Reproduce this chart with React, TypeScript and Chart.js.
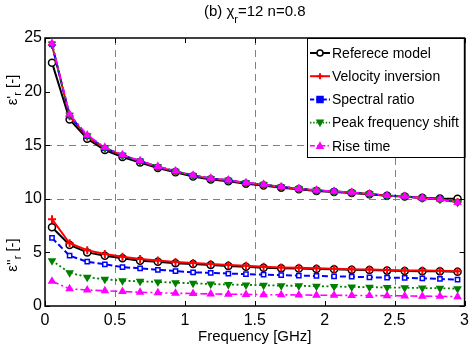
import React, { useEffect, useRef } from "react";
import { Chart, registerables } from "chart.js";

Chart.register(...registerables);

// ---- Data ----
const freqGHz = [0.05, 0.176, 0.302, 0.428, 0.554, 0.68, 0.807, 0.933, 1.059, 1.185, 1.311, 1.437, 1.563, 1.689, 1.815, 1.941, 2.067, 2.193, 2.32, 2.446, 2.572, 2.698, 2.824, 2.95];

const refReal = [22.7, 17.4, 15.6, 14.55, 13.9, 13.38, 12.88, 12.47, 12.08, 11.8, 11.64, 11.4, 11.25, 11.03, 10.88, 10.73, 10.64, 10.55, 10.42, 10.28, 10.22, 10.1, 10.02, 10.0];
const refImag = [7.34, 5.69, 5.0, 4.69, 4.45, 4.23, 4.13, 3.98, 3.92, 3.82, 3.73, 3.67, 3.57, 3.51, 3.49, 3.45, 3.42, 3.37, 3.35, 3.3, 3.27, 3.25, 3.23, 3.2];

const velReal = [24.35, 17.7, 15.8, 14.7, 14.05, 13.5, 12.97, 12.56, 12.16, 11.88, 11.72, 11.47, 11.32, 11.1, 10.94, 10.78, 10.68, 10.58, 10.44, 10.28, 10.22, 10.06, 9.95, 9.7];
const velImag = [8.1, 5.85, 5.2, 4.85, 4.6, 4.38, 4.25, 4.1, 4.02, 3.92, 3.83, 3.76, 3.67, 3.6, 3.56, 3.52, 3.48, 3.42, 3.4, 3.35, 3.32, 3.3, 3.28, 3.25];

const specReal = [24.4, 17.75, 15.85, 14.72, 14.06, 13.52, 12.98, 12.57, 12.17, 11.89, 11.73, 11.48, 11.33, 11.1, 10.95, 10.79, 10.69, 10.59, 10.45, 10.29, 10.23, 10.07, 9.96, 9.68];
const specImag = [6.35, 4.69, 4.13, 3.89, 3.63, 3.51, 3.38, 3.26, 3.14, 3.1, 3.03, 2.98, 2.92, 2.88, 2.83, 2.8, 2.77, 2.73, 2.68, 2.65, 2.62, 2.58, 2.52, 2.45];

const peakReal = [24.45, 17.8, 15.88, 14.75, 14.07, 13.53, 12.99, 12.58, 12.18, 11.9, 11.74, 11.49, 11.34, 11.11, 10.96, 10.79, 10.69, 10.59, 10.45, 10.29, 10.23, 10.07, 9.96, 9.66];
const peakImag = [4.23, 3.11, 2.68, 2.49, 2.36, 2.3, 2.25, 2.17, 2.12, 2.05, 2.0, 1.97, 1.94, 1.9, 1.88, 1.85, 1.82, 1.78, 1.76, 1.73, 1.7, 1.68, 1.66, 1.62];

const riseReal = [24.5, 17.9, 15.95, 14.8, 14.1, 13.55, 13.02, 12.6, 12.2, 11.92, 11.75, 11.5, 11.35, 11.12, 10.97, 10.8, 10.7, 10.6, 10.46, 10.3, 10.24, 10.08, 9.96, 9.65];
const riseImag = [2.3, 1.6, 1.49, 1.43, 1.35, 1.28, 1.24, 1.19, 1.16, 1.12, 1.1, 1.08, 1.06, 1.04, 1.03, 1.01, 1.0, 0.99, 0.97, 0.96, 0.94, 0.92, 0.9, 0.87];

const seriesLabels = ["Referece model", "Velocity inversion", "Spectral ratio", "Peak frequency shift", "Rise time"];
const xTicks = [0, 0.5, 1, 1.5, 2, 2.5, 3];
const yTicks = [0, 5, 10, 15, 20, 25];
const xGridDashed = [0.5, 1.5, 2.5];
const yGridDashed = [10, 15];

const titleMain = "(b) χ";
const titleSub = "r";
const titleRest = "=12 n=0.8";
const xTitle = "Frequency [GHz]";

const FONT = '"Liberation Sans", Arial, Helvetica, sans-serif';

type MarkerKind = "circle" | "cross" | "rect" | "triUp" | "triDown";

const styles: {
  color: string;
  dash: number[];
  marker: MarkerKind;
  pointStyle: string;
  rotation: number;
  fill: string;
  radius: number;
  lineWidth: number;
  order: number;
}[] = [
  { color: "#000000", dash: [], marker: "circle", pointStyle: "circle", rotation: 0, fill: "#ffffff", radius: 3.5, lineWidth: 2, order: 5 },
  { color: "#ff0000", dash: [], marker: "cross", pointStyle: "cross", rotation: 0, fill: "#ff0000", radius: 4, lineWidth: 2, order: 4 },
  { color: "#0000ff", dash: [6, 3], marker: "rect", pointStyle: "rect", rotation: 0, fill: "#ffffff", radius: 3, lineWidth: 2, order: 3 },
  { color: "#008000", dash: [2, 2.5], marker: "triDown", pointStyle: "triangle", rotation: 180, fill: "#008000", radius: 3.5, lineWidth: 1.8, order: 2 },
  { color: "#ff00ff", dash: [7, 3, 2, 3], marker: "triUp", pointStyle: "triangle", rotation: 0, fill: "#ff00ff", radius: 3.5, lineWidth: 1.6, order: 1 },
];

const realSets = [refReal, velReal, specReal, peakReal, riseReal];
const imagSets = [refImag, velImag, specImag, peakImag, riseImag];

function drawMarker(ctx: CanvasRenderingContext2D, kind: MarkerKind, x: number, y: number, r: number, stroke: string, fill: string) {
  ctx.save();
  ctx.setLineDash([]);
  ctx.lineWidth = 1.5;
  ctx.strokeStyle = stroke;
  ctx.fillStyle = fill;
  ctx.beginPath();
  if (kind === "circle") {
    ctx.arc(x, y, r, 0, Math.PI * 2);
    ctx.fill();
    ctx.stroke();
  } else if (kind === "cross") {
    ctx.lineWidth = 2;
    ctx.moveTo(x - r, y);
    ctx.lineTo(x + r, y);
    ctx.moveTo(x, y - r);
    ctx.lineTo(x, y + r);
    ctx.stroke();
  } else if (kind === "rect") {
    ctx.rect(x - r, y - r, 2 * r, 2 * r);
    ctx.fillStyle = stroke;
    ctx.fill();
    ctx.stroke();
  } else if (kind === "triUp") {
    ctx.moveTo(x, y - r);
    ctx.lineTo(x + r, y + r * 0.8);
    ctx.lineTo(x - r, y + r * 0.8);
    ctx.closePath();
    ctx.fill();
    ctx.stroke();
  } else {
    ctx.moveTo(x, y + r);
    ctx.lineTo(x + r, y - r * 0.8);
    ctx.lineTo(x - r, y - r * 0.8);
    ctx.closePath();
    ctx.fill();
    ctx.stroke();
  }
  ctx.restore();
}

function drawRotatedLabel(ctx: CanvasRenderingContext2D, cx: number, cy: number, main: string, sub: string, rest: string) {
  ctx.save();
  ctx.translate(cx, cy);
  ctx.rotate(-Math.PI / 2);
  ctx.fillStyle = "#000";
  ctx.textBaseline = "middle";
  ctx.textAlign = "left";
  const big = `15px ${FONT}`;
  const small = `11px ${FONT}`;
  ctx.font = big;
  const w1 = ctx.measureText(main).width;
  const w3 = ctx.measureText(rest).width;
  ctx.font = small;
  const w2 = ctx.measureText(sub).width;
  let x = -(w1 + w2 + w3) / 2;
  ctx.font = big;
  ctx.fillText(main, x, 0);
  x += w1;
  ctx.font = small;
  ctx.fillText(sub, x, 5);
  x += w2;
  ctx.font = big;
  ctx.fillText(rest, x, 0);
  ctx.restore();
}

const decorPlugin = {
  id: "decor",
  beforeDatasetsDraw(chart: any) {
    const { ctx, chartArea } = chart;
    const xs = chart.scales.x;
    const ys = chart.scales.y;
    ctx.save();
    ctx.strokeStyle = "#808080";
    ctx.lineWidth = 1;
    ctx.setLineDash([7, 5]);
    xGridDashed.forEach((v) => {
      const px = Math.round(xs.getPixelForValue(v)) + 0.5;
      ctx.beginPath();
      ctx.moveTo(px, chartArea.top);
      ctx.lineTo(px, chartArea.bottom);
      ctx.stroke();
    });
    yGridDashed.forEach((v) => {
      const py = Math.round(ys.getPixelForValue(v)) + 0.5;
      ctx.beginPath();
      ctx.moveTo(chartArea.left, py);
      ctx.lineTo(chartArea.right, py);
      ctx.stroke();
    });
    ctx.restore();
  },
  afterDraw(chart: any) {
    const { ctx, chartArea } = chart;
    const xs = chart.scales.x;
    const ys = chart.scales.y;
    const { left, right, top, bottom } = chartArea;

    ctx.save();
    // inward tick marks
    ctx.strokeStyle = "#000";
    ctx.lineWidth = 1;
    ctx.setLineDash([]);
    xTicks.forEach((v) => {
      const px = Math.round(xs.getPixelForValue(v)) + 0.5;
      ctx.beginPath();
      ctx.moveTo(px, bottom);
      ctx.lineTo(px, bottom - 5);
      ctx.moveTo(px, top);
      ctx.lineTo(px, top + 5);
      ctx.stroke();
    });
    yTicks.forEach((v) => {
      const py = Math.round(ys.getPixelForValue(v)) + 0.5;
      ctx.beginPath();
      ctx.moveTo(left, py);
      ctx.lineTo(left + 5, py);
      ctx.moveTo(right, py);
      ctx.lineTo(right - 5, py);
      ctx.stroke();
    });

    // legend box
    const lx0 = 307;
    const lx1 = right;
    const ly0 = top;
    const ly1 = 157;
    ctx.fillStyle = "#ffffff";
    ctx.fillRect(lx0, ly0, lx1 - lx0, ly1 - ly0);
    ctx.strokeStyle = "#000";
    ctx.lineWidth = 1;
    ctx.strokeRect(lx0 + 0.5, ly0 + 0.5, lx1 - lx0, ly1 - ly0);
    seriesLabels.forEach((label, i) => {
      const st = styles[i];
      const cy = 53 + i * 23.2;
      ctx.save();
      ctx.strokeStyle = st.color;
      ctx.lineWidth = st.lineWidth;
      ctx.setLineDash(st.dash.length ? st.dash.map((d) => d * 0.7) : []);
      ctx.beginPath();
      ctx.moveTo(310, cy);
      ctx.lineTo(330, cy);
      ctx.stroke();
      ctx.restore();
      drawMarker(ctx, st.marker, 320, cy, 3, st.color, st.fill);
      ctx.fillStyle = "#000";
      ctx.font = `14px ${FONT}`;
      ctx.textAlign = "left";
      ctx.textBaseline = "middle";
      ctx.fillText(label, 332, cy + 1);
    });

    // plot border
    ctx.strokeStyle = "#000";
    ctx.lineWidth = 1.5;
    ctx.strokeRect(left, top, right - left, bottom - top);

    // title with subscript
    ctx.fillStyle = "#000";
    ctx.textBaseline = "middle";
    ctx.textAlign = "left";
    const big = `15px ${FONT}`;
    const small = `11px ${FONT}`;
    ctx.font = big;
    const w1 = ctx.measureText(titleMain).width;
    const w3 = ctx.measureText(titleRest).width;
    ctx.font = small;
    const w2 = ctx.measureText(titleSub).width;
    let tx = (left + right) / 2 - (w1 + w2 + w3) / 2;
    ctx.font = big;
    ctx.fillText(titleMain, tx, 12);
    tx += w1;
    ctx.font = small;
    ctx.fillText(titleSub, tx, 20);
    tx += w2;
    ctx.font = big;
    ctx.fillText(titleRest, tx, 12);

    // x title
    ctx.textAlign = "center";
    ctx.font = big;
    ctx.fillText(xTitle, (left + right) / 2, 337);

    ctx.restore();

    // y titles
    drawRotatedLabel(ctx, 13, 90, "ε'", "r", " [-]");
    drawRotatedLabel(ctx, 13, 255, "ε''", "r", " [-]");
  },
};

export default function App() {
  const canvasRef = useRef<HTMLCanvasElement | null>(null);

  useEffect(() => {
    document.body.style.margin = "0";
    const canvas = canvasRef.current;
    if (!canvas) return;

    const datasets: any[] = [];
    [realSets, imagSets].forEach((group, g) => {
      group.forEach((vals, i) => {
        const st = styles[i];
        datasets.push({
          label: g === 0 ? seriesLabels[i] : seriesLabels[i] + " (imag)",
          data: freqGHz.map((f, k) => ({ x: f, y: vals[k] })),
          borderColor: st.color,
          backgroundColor: st.color,
          borderWidth: st.lineWidth,
          borderDash: st.dash,
          pointStyle: st.pointStyle,
          pointRotation: st.rotation,
          pointRadius: st.radius,
          pointBorderWidth: st.pointStyle === "cross" ? 2 : 1.5,
          pointBorderColor: st.color,
          pointBackgroundColor: st.fill,
          tension: 0,
          order: st.order,
        });
      });
    });

    const chart = new Chart(canvas, {
      type: "line",
      data: { datasets },
      options: {
        animation: false,
        responsive: false,
        maintainAspectRatio: false,
        layout: { padding: { top: 38, right: 7, left: 0, bottom: 0 } },
        plugins: {
          legend: { display: false },
          title: { display: false },
          tooltip: { enabled: false },
        },
        scales: {
          x: {
            type: "linear",
            min: 0,
            max: 3,
            afterFit: (s: any) => {
              s.height = 50;
            },
            afterBuildTicks: (s: any) => {
              s.ticks = xTicks.map((v) => ({ value: v }));
            },
            grid: { display: false, drawTicks: false },
            border: { display: false },
            ticks: {
              padding: 5,
              color: "#000",
              font: { family: FONT, size: 16 },
              maxRotation: 0,
              autoSkip: false,
              callback: (v: any) => String(v),
            },
          },
          y: {
            type: "linear",
            min: 0,
            max: 25,
            afterFit: (s: any) => {
              s.width = 45;
            },
            afterBuildTicks: (s: any) => {
              s.ticks = yTicks.map((v) => ({ value: v }));
            },
            grid: { display: false, drawTicks: false },
            border: { display: false },
            ticks: {
              padding: 3,
              color: "#000",
              font: { family: FONT, size: 16 },
              autoSkip: false,
              callback: (v: any) => String(v),
            },
          },
        },
      },
      plugins: [decorPlugin],
    } as any);

    return () => {
      chart.destroy();
    };
  }, []);

  return (
    <div style={{ position: "fixed", left: 0, top: 0, width: 474, height: 356, background: "#fff" }}>
      <canvas ref={canvasRef} width={474} height={356} />
    </div>
  );
}
